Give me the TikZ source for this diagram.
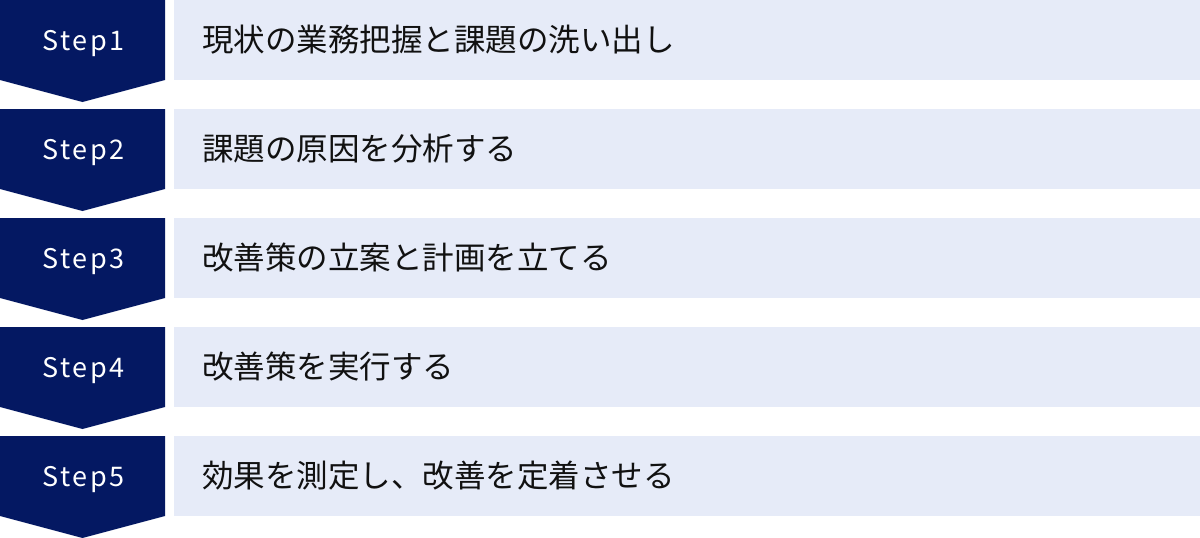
\documentclass[tikz,border=0pt]{standalone}
\usepackage{fontspec}
\setmainfont{Noto Sans}
\newfontfamily\jpfont{Noto Sans CJK JP}
\newfontfamily\stepfont[LetterSpace=9]{Noto Sans CJK JP}
\definecolor{navy}{HTML}{041862}
\definecolor{pale}{HTML}{E6EBF8}
\definecolor{ink}{HTML}{111111}
\begin{document}
\begin{tikzpicture}[x=1pt,y=-1pt,
  arrowshape/.style={fill=navy,draw=none},
  barbox/.style={fill=pale,draw=none},
  steplabel/.style={text=white,font=\stepfont\fontsize{27}{30}\selectfont,anchor=base,inner sep=0pt},
  tasklabel/.style={text=ink,font=\jpfont\fontsize{31.5}{36}\selectfont,anchor=base west,inner sep=0pt}]
\useasboundingbox (0,0) rectangle (1200,538);
\foreach \i/\t in {1/現状の業務把握と課題の洗い出し,2/課題の原因を分析する,3/改善策の立案と計画を立てる,4/改善策を実行する,5/効果を測定し、改善を定着させる}{
  \pgfmathsetmacro{\yy}{(\i-1)*109}
  \fill[arrowshape] (0,\yy) -- (165,\yy) -- (165,\yy+80) -- (82.5,\yy+102) -- (0,\yy+80) -- cycle;
  \fill[barbox] (174,\yy) rectangle (1200,\yy+80);
  \node[steplabel] (s\i) at (83.5,\yy+50) {Step\i};
  \node[tasklabel] (t\i) at (202,\yy+51) {\t};
}
\end{tikzpicture}
\end{document}
